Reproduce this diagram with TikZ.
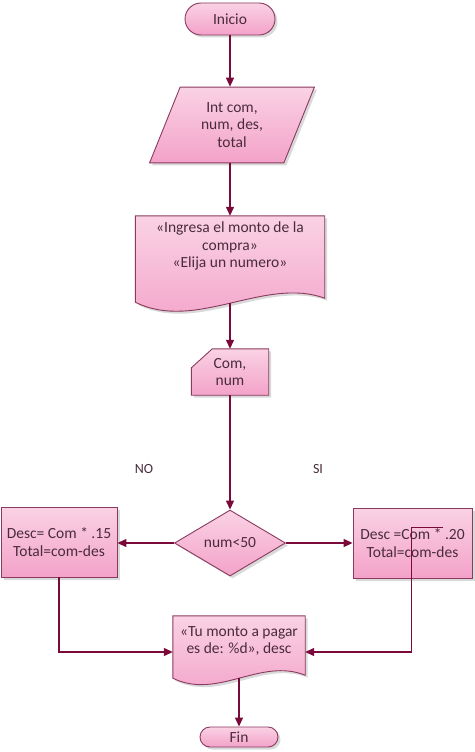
\documentclass[tikz,border=0pt]{standalone}
\usepackage{fontspec}
\setmainfont{Carlito}
\usetikzlibrary{arrows.meta,shapes.geometric,shadows,backgrounds,calc}
\definecolor{ink}{HTML}{4A2B3C}
\definecolor{edge}{HTML}{8A3A5E}
\definecolor{wine}{HTML}{7A0A3A}
\definecolor{pinktop}{HTML}{FAD2E4}
\definecolor{pinkbot}{HTML}{F3A2C9}

\begin{document}
\begin{tikzpicture}[x=1pt,y=-1pt,>={Triangle[length=9pt,width=8pt]},
  font=\fontsize{15.5}{17.5}\selectfont,
  skin/.style={draw=edge,line width=.9pt,top color=pinktop,bottom color=pinkbot,
    drop shadow={shadow xshift=2.5pt,shadow yshift=-2.5pt,opacity=.3}},
  lbl/.style={text=ink,align=center,inner sep=0pt},
  term/.style={skin,lbl,rounded corners=#1},
  flow/.style={wine,line width=1.3pt,->}]
\useasboundingbox (0,0) rectangle (474,752);
% column
\node[term=16pt,minimum width=90pt,minimum height=32pt] (inicio) at (230,19) {Inicio};
\node[skin,lbl,trapezium,trapezium left angle=68,trapezium right angle=112,
  minimum width=165pt,minimum height=66pt] (vars) at (232,125) {Int com,\\num, des,\\total};
\node[lbl,minimum width=189pt,minimum height=60pt] (prompt) at (230,246) {«Ingresa el monto de la\\compra»\\«Elija un numero»};
\node[lbl,minimum width=77pt,minimum height=46pt] (leer) at (230,372) {Com,\\num};
\node[skin,lbl,diamond,minimum width=111pt,minimum height=66pt] (cond) at (230,543) {num<50};
% branches
\node[skin,lbl,minimum width=116pt,minimum height=70pt] (desc15) at (59,542) {Desc= Com * .15\\Total=com-des};
\node[skin,lbl,minimum width=119pt,minimum height=70pt] (desc20) at (412.5,543) {Desc =Com * .20\\Total=com-des};
\node[text=ink,font=\fontsize{14}{16}\selectfont] (no) at (144,469) {NO};
\node[text=ink,font=\fontsize{14}{16}\selectfont] (si) at (318,469) {SI};
% end
\node[lbl,minimum width=132pt,minimum height=50pt] (pagar) at (239,641) {«Tu monto a pagar\\es de: \%d», desc};
\node[term=10pt,minimum width=78pt,minimum height=20pt] (fin) at (239,737) {Fin};
% document and card outlines behind the text
\begin{scope}[on background layer]
\path[skin] (prompt.north west) -- ($(prompt.south west)+(0,26)$)
  .. controls +(60,30) and +(-60,-22) .. ($(prompt.south east)+(0,22)$) -- (prompt.north east) -- cycle;
\path[skin] (pagar.north west) -- ($(pagar.south west)+(0,12)$)
  .. controls +(45,22) and +(-45,-18) .. ($(pagar.south east)+(0,9)$) -- (pagar.north east) -- cycle;
\path[skin] (leer.south west) -- ($(leer.north west)+(0,19)$) -- ($(leer.north west)+(21,0)$)
  -- (leer.north east) -- (leer.south east) -- cycle;
\end{scope}
\coordinate (prompt wave) at ($(prompt.south)+(0,27)$);
\coordinate (pagar wave) at ($(pagar.south)+(0,12)$);
\coordinate (giro) at ($(desc20.north east)+(-29,20)$);
% connectors
\draw[flow] (inicio.south) -- (inicio.south |- vars.north);
\draw[flow] (prompt.north |- vars.south) -- (prompt.north);
\draw[flow] (prompt wave) -- (leer);
\draw[flow] (leer) -- (cond);
\draw[flow] (cond.west) -- (cond.west -| desc15.east);
\draw[flow] (cond.east) -- (cond.east -| desc20.west);
\draw[flow] (desc15.south) |- ([yshift=-11pt]pagar.west);
\draw[flow] (giro) -- ++(-32,0) |- ([yshift=-11pt]pagar.east);
\draw[flow] (pagar wave) -- (fin);
\end{tikzpicture}
\end{document}
